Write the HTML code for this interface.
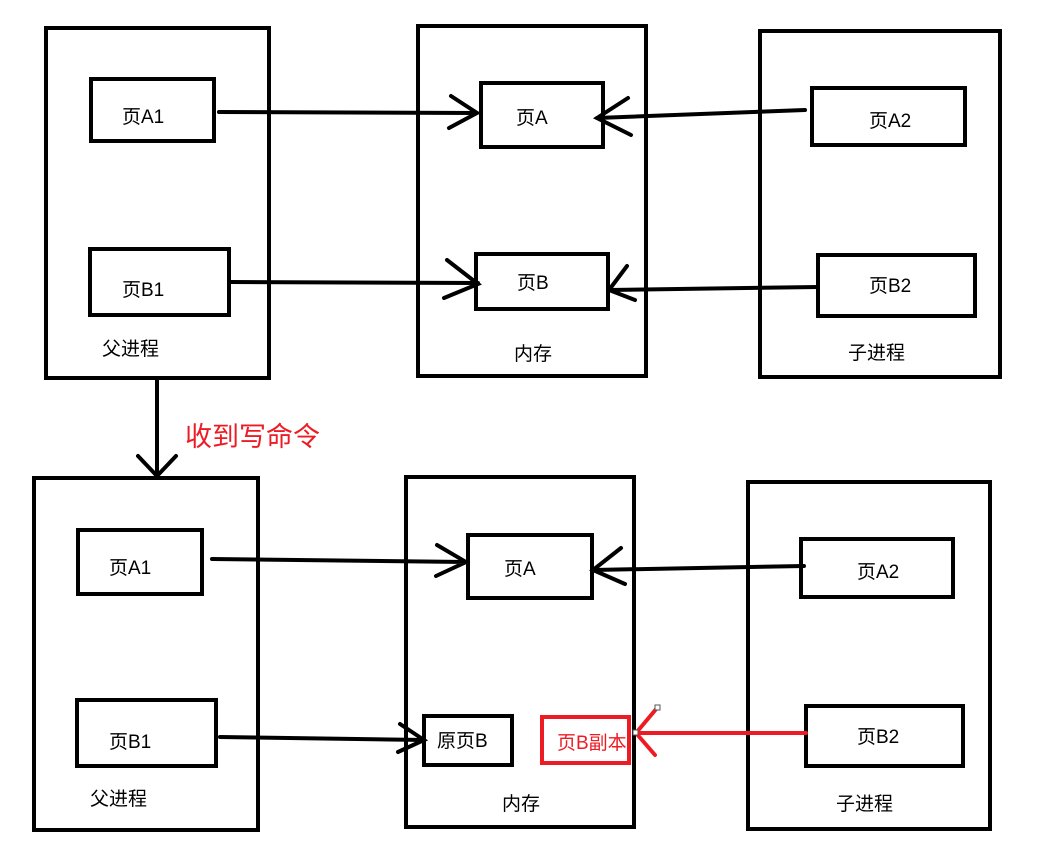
<!DOCTYPE html>
<html><head><meta charset="utf-8"><style>
html,body{margin:0;padding:0;background:#fff;width:1055px;height:852px;overflow:hidden}
text{font-family:"Liberation Sans","Noto Sans CJK SC",sans-serif;font-size:19px;fill:#000}
</style></head><body>
<svg width="1055" height="852" viewBox="0 0 1055 852" xmlns="http://www.w3.org/2000/svg">
<g fill="none" stroke="#000" stroke-width="4" stroke-linecap="round">
<!-- top -->
<rect x="46" y="28" width="223" height="350" stroke-linecap="butt"/>
<rect x="91" y="79" width="123" height="62"/>
<rect x="90" y="249" width="139" height="66"/>
<rect x="418" y="26" width="228" height="350"/>
<rect x="481" y="83" width="122" height="64"/>
<rect x="476" y="254" width="132" height="55"/>
<rect x="760" y="31" width="240" height="346"/>
<rect x="812" y="88" width="153" height="57"/>
<rect x="818" y="255" width="157" height="61"/>
<path d="M219 112 L477 113 M451 96 L477 113 L449 128"/>
<path d="M805 110 L597 118 M628 98 L597 118 L631 135"/>
<path d="M229 282 L478 283 M447 260 L478 284 L444 298"/>
<path d="M818 287 L609 290 M627 266 L609 290 L635 300"/>
<path d="M157 380 L157 476 M138 456 L157 476 L176 456"/>
<!-- bottom -->
<rect x="34" y="478" width="224" height="352"/>
<rect x="78" y="530" width="124" height="64"/>
<rect x="77" y="700" width="139" height="66"/>
<rect x="406" y="477" width="228" height="350"/>
<rect x="468" y="535" width="124" height="63"/>
<rect x="424" y="716" width="88" height="49"/>
<rect x="748" y="482" width="242" height="347"/>
<rect x="801" y="539" width="152" height="58"/>
<rect x="806" y="706" width="157" height="60"/>
<path d="M212 559 L466 562 M437 545 L466 562 L436 576"/>
<path d="M804 566 L593 570 M621 548 L593 570 L625 584"/>
<path d="M220 737 L424 740 M400 724 L424 740 L398 752"/>
</g>
<rect x="542" y="717" width="87" height="46" fill="none" stroke="#ed1c24" stroke-width="4"/>
<path d="M806 733 L636 733 M657 708 L636 733 L655 755" fill="none" stroke="#ed1c24" stroke-width="4" stroke-linecap="round"/>
<rect x="655" y="705" width="5" height="5" fill="#fff" stroke="#555" stroke-width="1"/>
<rect x="633" y="730" width="5" height="5" fill="#fff" stroke="#555" stroke-width="1"/>
<text x="122" y="123">页A1</text>
<text x="122" y="296">页B1</text>
<text x="102" y="355">父进程</text>
<text x="516" y="124">页A</text>
<text x="517" y="289">页B</text>
<text x="514" y="360">内存</text>
<text x="869" y="127">页A2</text>
<text x="869" y="292">页B2</text>
<text x="848" y="359">子进程</text>
<text x="185" y="446" style="font-size:27px;fill:#ed1c24">收到写命令</text>
<text x="109" y="574">页A1</text>
<text x="109" y="748">页B1</text>
<text x="90" y="805">父进程</text>
<text x="504" y="575">页A</text>
<text x="437" y="747">原页B</text>
<text x="557" y="749" style="fill:#ed1c24">页B副本</text>
<text x="502" y="810">内存</text>
<text x="857" y="578">页A2</text>
<text x="857" y="743">页B2</text>
<text x="836" y="810">子进程</text>
</svg>
</body></html>
